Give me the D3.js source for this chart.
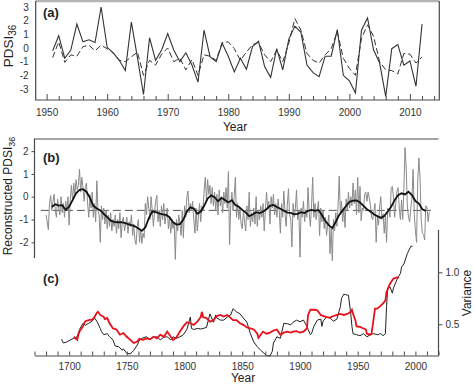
<!DOCTYPE html>
<html>
<head>
<meta charset="utf-8">
<script src="https://cdn.jsdelivr.net/npm/d3@7"></script>
<style>
body { margin: 0; background: #fff; }
svg { display: block; font-family: "Liberation Sans", Arial, sans-serif; }
</style>
</head>
<body>
<svg width="474" height="386"></svg>
<script>
// (a) observed (solid) and reconstructed (dashed) PDSI36, 1951-2012
var obsStart = 1951;
var pdsiObs = [
  -0.2, 0.9, -0.75, -0.15, 1.75, 0.45, 0.6, 0.4, 3.0, 0.05,
  -0.35, -0.9, -1.65, 1.9, -0.7, -3.4, 0.75, -0.9, -0.15, 1.05,
  -0.15, -1.0, -0.35, -1.25, -2.5, 1.3, -0.65, -1.0, 0.35, -0.6,
  -1.75, -0.75, -1.55, 0.1, 0.5, -1.35, -2.15, -0.05, -1.6, 0.65,
  1.6, 1.15, -1.25, -1.8, -2.1, -0.6, -0.6, 1.35, -2.0, -2.4,
  -3.3, 1.3, 2.2, -0.15, -1.1, -3.55, -0.05, 0.25, -1.25, -0.95,
  -2.8, 1.75];
var pdsiRecon = [
  -0.7, 0.45, -1.05, -0.5, -0.6, 0.1, 0.2, -0.2, 0.2, -0.05,
  -0.35, -0.9, -1.0, -0.65, -0.3, -2.0, -0.9, -1.25, -0.45, 0.0,
  -1.0, -0.75, -1.6, -0.85, -2.0, -0.5, -0.6, -0.9, 0.4, 0.45,
  -0.05, -0.9, -0.3, 0.25, 0.4, -0.5, -1.0, -0.15, -1.0, 0.35,
  2.15, 1.3, -0.4, -0.9, -1.1, -0.5, -0.05, 1.2, -0.75, -1.5,
  -2.0, 0.7, 1.7, 0.85, -1.0, -1.6, -1.65, -1.9, -0.4, -0.45,
  -1.1, -0.65];

// (b) reconstruction before 1951 (after that it is pdsiRecon), smoothed curve, mean
var reconStart = 1680;
var reconEarly = [
  -0.8, -1.1, -1.45, -0.3, 0.05, -0.6, -0.2, 0.1, -0.6, -0.9,
  -0.1, -0.5, -0.8, 0.0, -0.7, -0.3, -0.9, -0.2, -0.6, 0.0,
  -1.25, -0.1, 0.5, -0.2, 0.6, 0.1, 0.75, 0.3, 0.5, 1.2,
  0.2, 0.85, 0.4, -0.2, 0.4, 0.6, -0.3, -0.9, 0.1, -0.5,
  0.2, -0.9, -0.3, -1.1, 0.7, -0.6, -0.8, -2.0, -0.4, -1.0,
  -0.5, -1.2, -0.6, -1.4, -0.8, -1.3, -0.7, -1.5, -1.0, -1.3,
  -0.8, -1.6, -1.0, -1.4, -0.7, -1.8, -1.1, -0.9, -1.5, -1.2,
  -0.9, -1.6, -1.1, -1.3, -0.8, -1.7, -1.2, -1.9, -2.1, -1.3,
  -1.0, -2.0, -1.4, -2.05, -1.6, -1.8, -0.3, -0.8, 0.0, -0.5,
  -1.0, 0.0, -0.6, -1.3, -0.7, -0.2, 0.05, -1.1, -0.6, -1.3,
  -0.4, -1.0, -0.3, -1.2, -0.8, -0.5, -1.4, -0.9, -1.6, -1.0,
  -1.4, -1.1, -2.75, -1.0, -1.5, -0.8, -1.2, -1.7, -0.6, -1.8,
  -0.4, -0.9, 0.0, 0.25, -0.7, -0.3, -0.6, -0.2, -1.0, -1.6,
  -0.5, -1.5, -0.9, -0.3, -1.1, -0.4, -0.6, 0.3, 0.85, -0.2,
  0.75, 0.1, 0.5, -0.3, 0.4, -0.4, 0.2, -0.6, 0.1, -0.8,
  0.3, -0.4, 0.0, -0.7, 0.2, -0.3, 0.4, -0.5, 1.1, -2.1,
  -0.4, 0.2, -0.6, 0.0, 0.85, -0.9, -0.3, -1.0, -0.5, -1.2,
  -1.4, -0.6, -1.1, -1.5, -0.4, -1.0, 0.2, -1.3, -0.7, -1.1,
  -0.5, -1.2, 0.0, -1.3, -0.6, -1.0, -0.4, -0.9, -0.3, -1.5,
  -0.6, 0.2, -0.5, -0.2, -1.2, 0.0, -0.5, 0.1, -0.8, -0.3,
  -0.9, -0.1, -0.6, -1.6, -0.3, -0.9, 0.25, -0.7, -1.3, -0.4,
  0.35, -0.8, -1.0, -2.2, -0.3, -0.9, -0.5, 0.3, -1.0, -0.6,
  -2.65, -0.5, -0.9, -0.2, -1.1, -0.6, -0.9, 0.4, -0.7, -1.3,
  -0.4, 0.85, -0.9, -0.3, -1.0, -0.6, -0.2, -1.7, -0.5, -1.1,
  -0.6, -1.4, -0.9, -1.7, -1.2, -0.8, -2.5, -1.4, -2.8, -1.0,
  -1.5, -0.7, -1.3, -0.4, 0.9, -0.8, -0.2, -1.1, -0.5, -1.35,
  -0.1, -0.6, 0.2, -0.5, 0.0, -0.4, 0.6, -0.3, 0.3, -0.8,
  0.85];
var smoothYears = d3.range(1685, 2010, 3);
var smoothVals = [
  -0.45, -0.33, -0.39, -0.37, -0.58, -0.44, -0.15, 0.15, 0.3, 0.33,
  0.22, -0.05, -0.4, -0.52, -0.6, -0.75, -0.9, -1.05, -1.1, -1.12,
  -1.12, -1.15, -1.2, -1.25, -1.3, -1.4, -1.5, -1.35, -0.95, -0.65,
  -0.68, -0.73, -0.78, -0.8, -0.9, -1.12, -1.22, -1.2, -1.0, -0.65,
  -0.47, -0.52, -0.75, -0.65, -0.4, -0.08, 0.06, -0.02, -0.2, -0.05,
  -0.15, -0.25, -0.15, -0.37, -0.44, -0.58, -0.7, -0.85, -0.78, -0.68,
  -0.72, -0.66, -0.55, -0.4, -0.36, -0.45, -0.53, -0.62, -0.7, -0.71,
  -0.77, -0.75, -0.68, -0.72, -0.62, -0.58, -0.62, -0.58, -0.8, -1.07,
  -1.25, -1.38, -1.1, -0.8, -0.6, -0.4, -0.22, -0.17, -0.16, -0.25,
  -0.4, -0.55, -0.65, -0.77, -0.85, -0.93, -0.85, -0.65, -0.44, -0.15,
  0.07, 0.15, 0.1, 0.22, 0.07, -0.19, -0.3, -0.55, -0.62];
var reconMean = -0.6;

// (c) running variance, black and red series
var varBlackYears = [
  1693.5, 1695, 1698, 1701, 1704, 1707, 1709, 1712, 1714, 1717, 1720, 1722, 1724, 1727, 1728,
  1730, 1733, 1735, 1738, 1740, 1743, 1746, 1747, 1750, 1753, 1756, 1759, 1761, 1764, 1767,
  1770, 1773, 1776, 1779, 1782, 1785, 1788, 1790, 1793, 1796, 1799, 1802, 1805, 1806, 1808,
  1811, 1814, 1816, 1819, 1822, 1825, 1827, 1828, 1831, 1834, 1837, 1840, 1842, 1845, 1848,
  1851, 1854, 1857, 1860, 1863, 1866, 1868, 1871, 1874, 1876, 1877, 1880, 1883, 1886, 1889,
  1892, 1894, 1897, 1900, 1903, 1906, 1909, 1910, 1912, 1915, 1918, 1919, 1920, 1923, 1926,
  1929, 1932, 1935, 1936, 1938, 1941, 1942, 1944, 1945, 1946, 1949, 1952, 1955, 1958, 1961,
  1964, 1967, 1970, 1972, 1974, 1975, 1976, 1978, 1980, 1981, 1984, 1987, 1988, 1990, 1993,
  1996, 1997.5];
var varBlackVals = [
  0.356, 0.32, 0.33, 0.35, 0.365, 0.38, 0.45, 0.51, 0.49, 0.51, 0.53, 0.56, 0.53, 0.46, 0.43,
  0.40, 0.41, 0.38, 0.35, 0.29, 0.285, 0.25, 0.265, 0.22, 0.215, 0.25, 0.30, 0.35, 0.37, 0.38,
  0.355, 0.375, 0.38, 0.35, 0.375, 0.38, 0.35, 0.38, 0.365, 0.38, 0.40, 0.45, 0.57, 0.46, 0.45,
  0.46, 0.455, 0.46, 0.47, 0.60, 0.52, 0.59, 0.56, 0.54, 0.54, 0.57, 0.59, 0.65, 0.62, 0.60,
  0.56, 0.52, 0.41, 0.33, 0.285, 0.25, 0.23, 0.20, 0.195, 0.24, 0.32, 0.38, 0.365, 0.51, 0.505,
  0.495, 0.52, 0.54, 0.525, 0.54, 0.48, 0.40, 0.41, 0.48, 0.54, 0.55, 0.48, 0.53, 0.57, 0.56,
  0.53, 0.55, 0.67, 0.75, 0.79, 0.78, 0.78, 0.60, 0.48, 0.41, 0.40, 0.39, 0.41, 0.38, 0.40,
  0.41, 0.40, 0.41, 0.39, 0.41, 0.67, 0.85, 0.86, 0.80, 0.85, 0.93, 0.99, 1.05, 1.08, 1.18,
  1.25, 1.25];
var varRedYears = [
  1704, 1707, 1708, 1709, 1712, 1714, 1717, 1720, 1722, 1724, 1725, 1727, 1730, 1731, 1733,
  1735, 1738, 1741, 1744, 1747, 1750, 1753, 1756, 1759, 1761, 1764, 1767, 1770, 1773, 1776,
  1779, 1782, 1785, 1788, 1790, 1793, 1796, 1799, 1802, 1805, 1808, 1811, 1814, 1815, 1816,
  1819, 1822, 1825, 1828, 1831, 1834, 1837, 1840, 1842, 1845, 1848, 1851, 1854, 1857, 1860,
  1863, 1864, 1866, 1868, 1871, 1874, 1877, 1880, 1883, 1886, 1889, 1892, 1894, 1897, 1900,
  1903, 1906, 1907, 1909, 1912, 1915, 1918, 1920, 1923, 1926, 1929, 1932, 1935, 1938, 1941,
  1944, 1945, 1946, 1948, 1949, 1952, 1955, 1957, 1958, 1961, 1962, 1964, 1965, 1967, 1970,
  1972, 1974, 1975, 1978, 1981, 1984, 1985.5];
var varRedVals = [
  0.38, 0.35, 0.40, 0.43, 0.48, 0.53, 0.54, 0.545, 0.57, 0.61, 0.62, 0.59, 0.57, 0.55, 0.56,
  0.51, 0.46, 0.45, 0.40, 0.415, 0.38, 0.35, 0.32, 0.335, 0.36, 0.35, 0.365, 0.355, 0.38, 0.365,
  0.40, 0.38, 0.43, 0.38, 0.35, 0.375, 0.43, 0.48, 0.52, 0.51, 0.495, 0.525, 0.57, 0.62, 0.57,
  0.56, 0.525, 0.54, 0.58, 0.59, 0.575, 0.59, 0.56, 0.54, 0.54, 0.51, 0.495, 0.47, 0.46, 0.45,
  0.41, 0.37, 0.40, 0.43, 0.41, 0.42, 0.44, 0.45, 0.40, 0.42, 0.43, 0.42, 0.43, 0.435, 0.42,
  0.43, 0.46, 0.59, 0.64, 0.64, 0.635, 0.59, 0.58, 0.57, 0.565, 0.58, 0.59, 0.60, 0.59, 0.60,
  0.62, 0.64, 0.60, 0.54, 0.48, 0.475, 0.46, 0.45, 0.41, 0.40, 0.41, 0.57, 0.65, 0.65, 0.68,
  0.70, 0.73, 0.81, 0.89, 0.94, 0.95, 0.95];

// tick values
var aXTicks = d3.range(1950, 2015, 2);
var aYTicks = [-3, -2, -1, 0, 1, 2, 3];
var bYTicks = [-2, -1, 0, 1, 2];
var cXTicks = d3.range(1670, 2021, 10);
var cVarTicks = [0.5, 1.0];

var axisCol = "#4a4a4a";
var svg = d3.select("svg");

// ---------- panel (a)
var xA = d3.scaleLinear().domain([1948.2, 2014.85]).range([35.7, 439.3]);
var yA = d3.scaleLinear().domain([-3, 3]).range([89, 7]);

svg.append("line").attr("x1", 35.7).attr("x2", 439.3).attr("y1", 1).attr("y2", 1)
  .attr("stroke", "#b4b4b4").attr("stroke-width", 2.5);
svg.append("path")
  .attr("d", "M35.7,1V100H439.3V1")
  .attr("fill", "none").attr("stroke", axisCol).attr("stroke-width", 1.2);

var obsPts = pdsiObs.map(function (v, i) { return [obsStart + i, v]; });
var recPts = pdsiRecon.map(function (v, i) { return [obsStart + i, v]; });
var lineA = d3.line().x(function (d) { return xA(d[0]); }).y(function (d) { return yA(d[1]); });

svg.append("path").attr("d", lineA(recPts)).attr("fill", "none")
  .attr("stroke", "#333").attr("stroke-width", 1).attr("stroke-dasharray", "6,3");
svg.append("path").attr("d", lineA(obsPts)).attr("fill", "none")
  .attr("stroke", "#333").attr("stroke-width", 1.1);

var axA = svg.append("g").attr("transform", "translate(0,100)")
  .call(d3.axisBottom(xA).tickValues(aXTicks).tickSize(-4).tickSizeOuter(0).tickPadding(9)
    .tickFormat(function (d) { return d % 10 === 0 ? d : ""; }));
axA.select(".domain").remove();
axA.selectAll(".tick line").attr("stroke", axisCol)
  .attr("y2", function (d) { return d % 10 === 0 ? -6 : -4; });

var ayA = svg.append("g").attr("transform", "translate(35.7,0)")
  .call(d3.axisLeft(yA).tickValues(aYTicks).tickSize(0).tickPadding(7)
    .tickFormat(function (d) { return String(d); }));
ayA.select(".domain").remove();

svg.append("text").attr("x", 43).attr("y", 17).attr("font-size", 13).attr("font-weight", "bold")
  .attr("fill", "#222").text("(a)");

var tA = svg.append("text").attr("transform", "translate(13,46) rotate(-90)")
  .attr("text-anchor", "middle").attr("font-size", 13.5).attr("fill", "#222");
tA.append("tspan").text("PDSI");
tA.append("tspan").attr("font-size", 10).attr("dy", 3).text("36");

svg.append("text").attr("x", 235).attr("y", 131).attr("text-anchor", "middle")
  .attr("font-size", 12).attr("fill", "#222").text("Year");

// ---------- panels (b) and (c) share the year axis
var xB = d3.scaleLinear().domain([1670, 2020]).range([34.5, 438.5]);
var yB = d3.scaleLinear().domain([-2, 2]).range([242.3, 151.1]);
var yC = d3.scaleLinear().domain([0.5, 1.0]).range([324.3, 272.3]);

// (b)
svg.append("path").attr("d", "M34.5,258V139H438.5")
  .attr("fill", "none").attr("stroke", axisCol).attr("stroke-width", 1.2);

var reconAll = reconEarly.concat(pdsiRecon).map(function (v, i) { return [reconStart + i, v]; });
var lineB = d3.line().x(function (d) { return xB(d[0]); }).y(function (d) { return yB(d[1]); });

svg.append("line").attr("x1", xB(1675.5)).attr("x2", xB(2013.5))
  .attr("y1", yB(reconMean)).attr("y2", yB(reconMean))
  .attr("stroke", "#555").attr("stroke-width", 1).attr("stroke-dasharray", "8,4");
svg.append("path").attr("d", lineB(reconAll)).attr("fill", "none")
  .attr("stroke", "#8a8a8a").attr("stroke-width", 1);
svg.append("path")
  .attr("d", lineB(smoothYears.map(function (y, i) { return [y, smoothVals[i]]; })))
  .attr("fill", "none").attr("stroke", "#111").attr("stroke-width", 1.8);

var ayB = svg.append("g").attr("transform", "translate(34.5,0)")
  .call(d3.axisLeft(yB).tickValues(bYTicks).tickSize(3).tickPadding(3)
    .tickFormat(function (d) { return String(d); }));
ayB.select(".domain").remove();
ayB.selectAll(".tick line").attr("stroke", axisCol);

svg.append("text").attr("x", 43).attr("y", 162).attr("font-size", 13).attr("font-weight", "bold")
  .attr("fill", "#222").text("(b)");

var tB = svg.append("text").attr("transform", "translate(12,196) rotate(-90)")
  .attr("text-anchor", "middle").attr("font-size", 12).attr("fill", "#222");
tB.append("tspan").text("Reconstructed PDSI");
tB.append("tspan").attr("font-size", 9).attr("dy", 3).text("36");

// (c)
var lineC = d3.line().x(function (d) { return xB(d[0]); }).y(function (d) { return yC(d[1]); });
svg.append("path")
  .attr("d", lineC(varBlackYears.map(function (y, i) { return [y, varBlackVals[i]]; })))
  .attr("fill", "none").attr("stroke", "#222").attr("stroke-width", 1);
svg.append("path")
  .attr("d", lineC(varRedYears.map(function (y, i) { return [y, varRedVals[i]]; })))
  .attr("fill", "none").attr("stroke", "#e8101a").attr("stroke-width", 1.8);

var axC = svg.append("g").attr("transform", "translate(0,355.5)")
  .call(d3.axisBottom(xB).tickValues(cXTicks).tickSize(-4).tickSizeOuter(0).tickPadding(7)
    .tickFormat(function (d) { return (d % 50 === 0 && d >= 1700 && d <= 2000) ? d : ""; }));
axC.select(".domain").attr("stroke", axisCol).attr("stroke-width", 1.2);
axC.selectAll(".tick line").attr("stroke", axisCol);

var ayC = svg.append("g").attr("transform", "translate(438.5,0)")
  .call(d3.axisRight(yC).tickValues(cVarTicks).tickSize(4).tickPadding(3)
    .tickFormat(d3.format(".1f")));
ayC.select(".domain").remove();
ayC.selectAll(".tick line").attr("stroke", axisCol);
svg.append("line").attr("x1", 438.5).attr("x2", 438.5).attr("y1", 230).attr("y2", 355.5)
  .attr("stroke", axisCol).attr("stroke-width", 1.2);

svg.append("text").attr("x", 43).attr("y", 283).attr("font-size", 13).attr("font-weight", "bold")
  .attr("fill", "#222").text("(c)");
svg.append("text").attr("x", 243).attr("y", 382).attr("text-anchor", "middle")
  .attr("font-size", 12).attr("fill", "#222").text("Year");
svg.append("text").attr("transform", "translate(471,293) rotate(-90)")
  .attr("text-anchor", "middle").attr("font-size", 12).attr("fill", "#222").text("Variance");

svg.selectAll(".tick text").attr("font-size", 10).attr("fill", "#333")
  .attr("font-family", "'Liberation Sans', Arial, sans-serif");
</script>
</body>
</html>
